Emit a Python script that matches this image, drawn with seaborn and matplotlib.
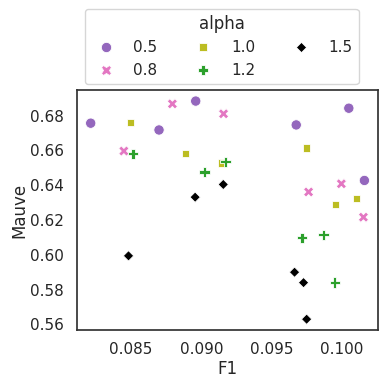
import numpy as np
import pandas as pd
from matplotlib import pyplot as plt
import seaborn as sns

# valores
alpha_levels = [0.5, 0.8, 1.0, 1.2, 1.5]

f1_05 = [0.08212, 0.08959, 0.08698, 0.09674, 0.10048, 0.10159]
mauve_05 = [0.6756, 0.6883, 0.6717, 0.6746, 0.6842, 0.6427]

f1_08 = [0.08793, 0.09157, 0.08448, 0.09762, 0.09995, 0.10152]
mauve_08 = [0.6867, 0.6810, 0.6596, 0.6361, 0.6408, 0.6216]

f1_10 = [0.08493, 0.08888, 0.09143, 0.09745, 0.09952, 0.10105]
mauve_10 = [0.6761, 0.6583, 0.6527, 0.6614, 0.6288, 0.6323]

f1_12 = [0.08512, 0.09021, 0.09170, 0.09714, 0.09867, 0.09948]
mauve_12 = [0.6581, 0.6475, 0.6535, 0.6098, 0.6115, 0.5840]

f1_15 = [0.09155, 0.08955, 0.08481, 0.09662, 0.09726, 0.09748]
mauve_15 = [0.6404, 0.6331, 0.5994, 0.5900, 0.5840, 0.5630]

cores = ['tab:purple', 'tab:pink', 'tab:olive', 'tab:green', 'black']

f1_all = [f1_05, f1_08, f1_10, f1_12, f1_15]
mauve_all = [mauve_05, mauve_08, mauve_10, mauve_12, mauve_15]

linhas = []
for a, xs, ys in zip(alpha_levels, f1_all, mauve_all):
    for x, y in zip(xs, ys):
        linhas.append({'F1': x, 'Mauve': y, 'alpha': str(a)})
df = pd.DataFrame(linhas)

sns.set_theme(style='white')
fig, ax = plt.subplots(figsize=(3.87, 3.87), dpi=100)

# marcadores padrao do seaborn (circulo, X, quadrado, +, losango)
sns.scatterplot(data=df, x='F1', y='Mauve', hue='alpha', style='alpha',
                palette=cores, s=55, ax=ax)

for sp in ax.spines.values():
    sp.set_color('#333333')
ax.tick_params(axis='x', pad=2.5)
ax.tick_params(axis='y', pad=3.5)
ax.xaxis.labelpad = 2
ax.yaxis.labelpad = 1

sns.move_legend(ax, 'lower center', bbox_to_anchor=(0.48, 0.993), ncol=3,
                title='alpha', frameon=True, columnspacing=2.0)

fig.subplots_adjust(left=0.199, right=0.977, top=0.767, bottom=0.147)
plt.savefig('out.png', dpi=100)
